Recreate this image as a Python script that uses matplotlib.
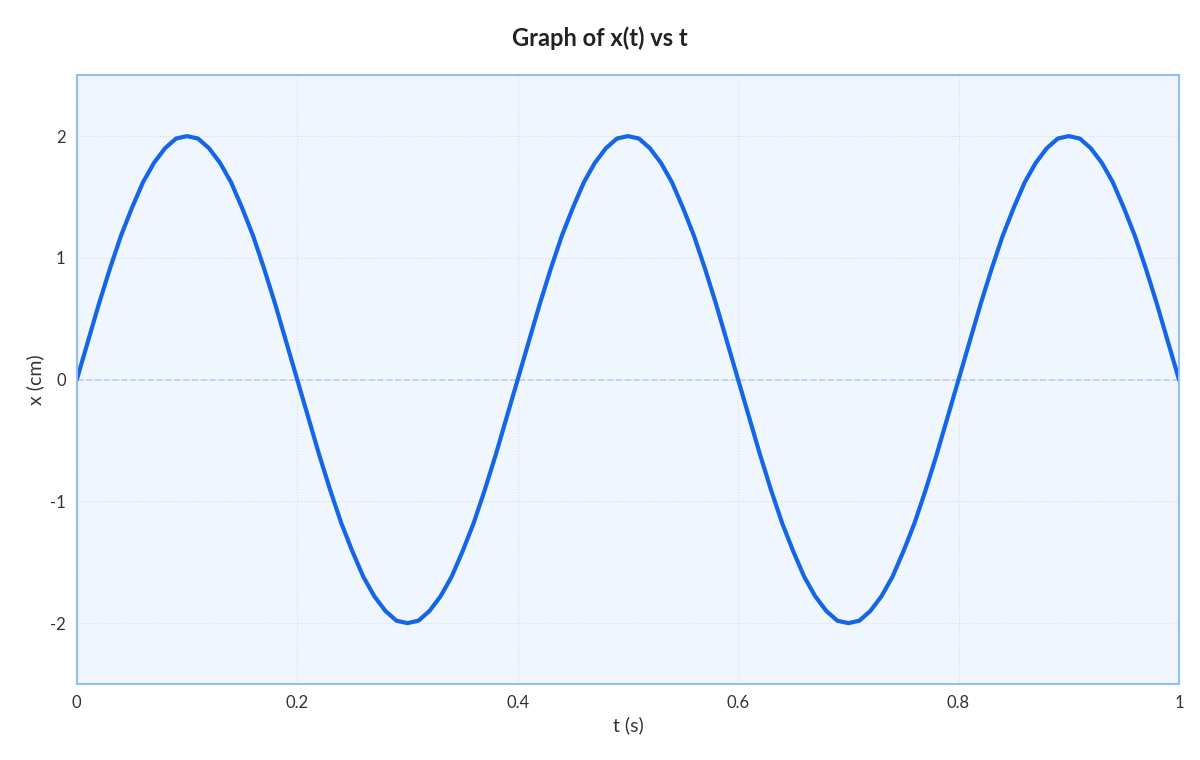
import matplotlib
matplotlib.use("Agg")
import matplotlib.pyplot as plt

t_values = [i / 100 for i in range(101)]
x_values = [
    0.00, 0.31, 0.62, 0.91, 1.18, 1.41, 1.62, 1.78, 1.90, 1.98, 2.00,
    1.98, 1.90, 1.78, 1.62, 1.41, 1.18, 0.91, 0.62, 0.31, 0.00,
    -0.31, -0.62, -0.91, -1.18, -1.41, -1.62, -1.78, -1.90, -1.98, -2.00,
    -1.98, -1.90, -1.78, -1.62, -1.41, -1.18, -0.91, -0.62, -0.31, 0.00,
    0.31, 0.62, 0.91, 1.18, 1.41, 1.62, 1.78, 1.90, 1.98, 2.00,
    1.98, 1.90, 1.78, 1.62, 1.41, 1.18, 0.91, 0.62, 0.31, 0.00,
    -0.31, -0.62, -0.91, -1.18, -1.41, -1.62, -1.78, -1.90, -1.98, -2.00,
    -1.98, -1.90, -1.78, -1.62, -1.41, -1.18, -0.91, -0.62, -0.31, 0.00,
    0.31, 0.62, 0.91, 1.18, 1.41, 1.62, 1.78, 1.90, 1.98, 2.00,
    1.98, 1.90, 1.78, 1.62, 1.41, 1.18, 0.91, 0.62, 0.31, 0.00,
]
x_ticks = [0, 0.2, 0.4, 0.6, 0.8, 1]
x_tick_labels = ["0", "0.2", "0.4", "0.6", "0.8", "1"]
y_ticks = [-2, -1, 0, 1, 2]
y_tick_labels = ["-2", "-1", "0", "1", "2"]

plt.rcParams['font.family'] = ['Lato', 'DejaVu Sans']
plt.rcParams['axes.unicode_minus'] = False
fig = plt.figure(figsize=(12, 7.6), dpi=100)
ax = fig.add_axes([0.064, 0.1, 0.9185, 0.801])
ax.set_facecolor('#f0f6fd')
for s in ax.spines.values():
    s.set_color('#93bdf5')
    s.set_linewidth(1.5)
ax.grid(True, linestyle=':', color='#d5dde8', linewidth=0.8)
ax.axhline(0, color='#b9d0ee', linestyle='--', linewidth=1.2)
ax.plot(t_values, x_values, color='#1565e8', linewidth=3,
        solid_capstyle='round', solid_joinstyle='round')
ax.set_xlim(0, 1)
ax.set_ylim(-2.5, 2.5)
ax.set_xticks(x_ticks)
ax.set_xticklabels(x_tick_labels)
ax.set_yticks(y_ticks)
ax.set_yticklabels(y_tick_labels)
ax.tick_params(length=0, labelsize=12, colors='#333333', pad=8)
ax.set_xlabel('t (s)', fontsize=14, color='#333333')
ax.set_ylabel('x (cm)', fontsize=14, color='#333333')
fig.suptitle('Graph of x(t) vs t', fontsize=17, fontweight='bold', color='#222222', y=0.965)
fig.savefig('out.png', dpi=100, facecolor='white')
